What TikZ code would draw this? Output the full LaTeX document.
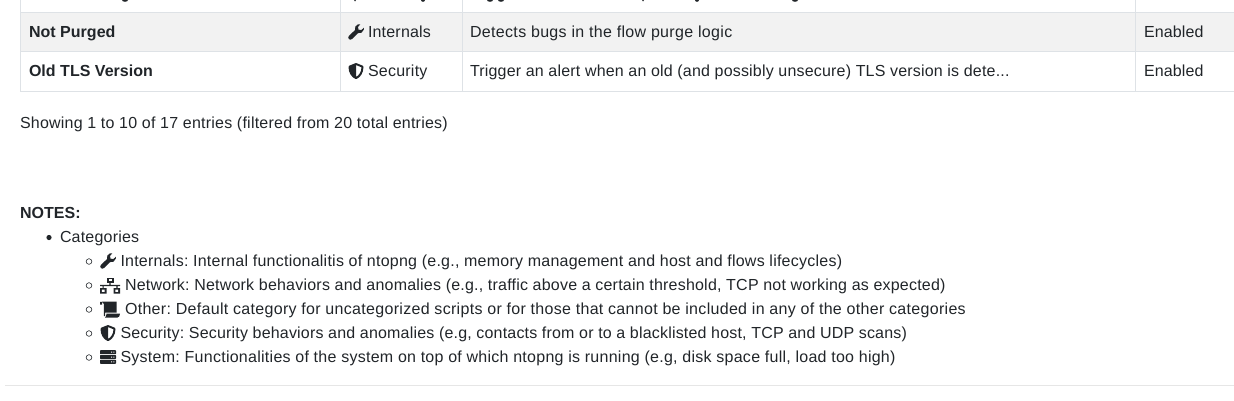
\documentclass[tikz,border=0pt]{standalone}
\usepackage{fontspec}
\setmainfont[LetterSpace=1.25,BoldFeatures={LetterSpace=0.2}]{Liberation Sans}
\newcommand{\track}[1]{\addfontfeature{LetterSpace=#1}}
\definecolor{inkc}{HTML}{212529}
\definecolor{rulec}{HTML}{DEE2E6}
\definecolor{rowc}{HTML}{F2F2F2}
\definecolor{hrc}{HTML}{E6E6E6}
\tikzset{
  wrenchicon/.pic={\fill[inkc] (9.9,0.4) .. controls (7.5,1) and (6.5,3.5) .. (7,6.1) -- (0.9,11.9) .. controls (-0.2,13) and (0.2,14.4) .. (1,15.1) .. controls (1.9,15.9) and (3,15.9) .. (4,15) -- (9.9,9.1) .. controls (12.5,9.8) and (15,8.5) .. (15.8,5.6) .. controls (15.9,5) and (15.95,4.5) .. (15.9,3.7) -- (13.3,6.1) -- (10.5,5.6) -- (10,2.8) -- (12.4,0.3) .. controls (11.4,0.1) and (10.6,0.2) .. (9.9,0.4) -- cycle;},
  shieldicon/.pic={\fill[inkc,even odd rule] (8,0) -- (14.6,2.6) .. controls (15.2,2.9) and (15.5,3.4) .. (15.5,4) .. controls (15.5,10.9) and (11.3,14.8) .. (8.6,15.9) .. controls (8.2,16) and (7.8,16) .. (7.4,15.9) .. controls (4,14.5) and (0.5,10.2) .. (0.5,4) .. controls (0.5,3.4) and (0.9,2.9) .. (1.4,2.6) -- cycle (8,2) -- (8,13.9) .. controls (10.9,12.5) and (13.4,9) .. (13.5,4.3) -- cycle;},
  networkicon/.pic={\fill[inkc] (6.5,0) rectangle (13.5,5.5);
    \fill[white] (8.5,1.7) rectangle (11.5,3.8);
    \fill[inkc] (9.4,5.5) rectangle (10.6,7.4) (0,7.4) rectangle (20,8.6) (2.5,8.6) rectangle (3.7,10.5) (16.3,8.6) rectangle (17.5,10.5);
    \fill[inkc] (0,10.5) rectangle (6.5,16) (13.5,10.5) rectangle (20,16);
    \fill[white] (1.8,12.2) rectangle (4.7,14.3) (15.3,12.2) rectangle (18.2,14.3);},
  scrollicon/.pic={\fill[inkc] (0,0.3) rectangle (2.2,3) (2,0) -- (16.5,0) -- (16.5,11) -- (5,11) -- (5,14.5) -- (3.8,14.5) -- (3.8,2.5) -- cycle;
    \fill[inkc] (6.5,12) -- (20,12) .. controls (20,14.5) and (19,16) .. (17.5,16) -- (5,16) .. controls (6,15.5) and (6.5,14) .. (6.5,12) -- cycle;},
  servericon/.pic={\foreach \r in {1.2,6,10.8}{
      \fill[inkc,rounded corners=0.6pt] (0,\r) rectangle (16,\r+4);
      \fill[white] (11,\r+1.5) rectangle (12,\r+2.5) (13.3,\r+1.5) rectangle (14.3,\r+2.5);}},
}
\begin{document}
\frenchspacing
\begin{tikzpicture}[x=1pt,y=-1pt]\tikzstyle{every node}=[anchor=base west,inner sep=0pt,outer sep=0pt,text=inkc,font=\fontsize{16}{19}\selectfont]
\useasboundingbox (0,0) rectangle (1234,400);
\fill[rowc] (21,13) rectangle (1234,51);
\draw[rulec] (20.5,0) -- (20.5,91.5)
      (340.5,0) -- (340.5,91.5)
      (462.5,0) -- (462.5,91.5)
      (1135.5,0) -- (1135.5,91.5)
      (20,12.5) -- (1234,12.5)
      (20,51.5) -- (1234,51.5)
      (20,91.5) -- (1234,91.5);
\draw[hrc] (5,385.5) -- (1234,385.5);
\fill[inkc] (125,0) ellipse (3 and 1.8)
      (355,0) ellipse (1 and 1.5)
      (423,0) ellipse (2 and 1.8)
      (490,0) ellipse (3 and 1.8)
      (501,0) ellipse (3 and 1.8)
      (643,0) ellipse (1 and 1.5)
      (697,0) ellipse (2 and 1.8)
      (795,0) ellipse (3 and 1.8);
\node at (29,37.5) (notpurged) {\textbf{Not Purged}};
\pic at (348,24) {wrenchicon};
\node at (368,37.5) (internals) {Internals};
\node at (470,37.5) (detects) {\track{2.1}Detects bugs in the flow purge logic};
\node at (1144,37.5) (enabled1) {\track{0.9}Enabled};
\node at (29,76.5) (oldtls) {\textbf{Old TLS Version}};
\pic at (348,63) {shieldicon};
\node at (368,76.5) (security) {\track{1.5}Security};
\node at (470,76.5) (trigger) {\track{1.2}Trigger an alert when an old (and possibly unsecure) TLS version is dete...};
\node at (1144,76.5) (enabled2) {\track{0.9}Enabled};
\node at (20,128.5) (showing) {\track{1.45}Showing 1 to 10 of 17 entries (filtered from 20 total entries)};
\node at (20,218.5) (notes) {\textbf{NOTES:}};
\fill[inkc] (49,237.5) circle (2.6);
\node at (60,242.5) (categories) {Categories};
\foreach \y in {261.5,285.5,309.5,333.5,357.5}
  \draw[inkc,line width=0.6pt] (89,\y) circle (2.8);
\pic at (100,253) {wrenchicon};
\node at (120.5,266.5) (catinternals) {\track{1.5}Internals: Internal functionalitis of ntopng (e.g., memory management and host and flows lifecycles)};
\pic at (100,277.5) {networkicon};
\node at (125,290.5) (catnetwork) {\track{1.35}Network: Network behaviors and anomalies (e.g., traffic above a certain threshold, TCP not working as expected)};
\pic at (100,301.5) {scrollicon};
\node at (125,314.5) (catother) {\track{1.95}Other: Default category for uncategorized scripts or for those that cannot be included in any of the other categories};
\pic at (100,325) {shieldicon};
\node at (120.5,338.5) (catsecurity) {\track{1.2}Security: Security behaviors and anomalies (e.g, contacts from or to a blacklisted host, TCP and UDP scans)};
\pic at (100,349) {servericon};
\node at (120.5,362.5) (catsystem) {\track{1.7}System: Functionalities of the system on top of which ntopng is running (e.g, disk space full, load too high)};
\end{tikzpicture}
\end{document}
